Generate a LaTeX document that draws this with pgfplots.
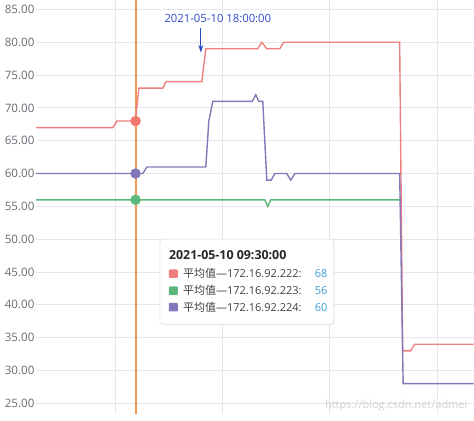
\documentclass[border=0pt]{standalone}
\usepackage{pgfplots}
\pgfplotsset{compat=1.18}
\usepackage{fontspec}
\setmainfont{Open Sans}
\newfontfamily\cjk{Noto Sans CJK SC}
\usetikzlibrary{arrows.meta,shadows}

\definecolor{sred}{RGB}{238,128,125}
\definecolor{sgreen}{RGB}{92,184,122}
\definecolor{spurple}{RGB}{132,120,186}
\definecolor{ticktxt}{RGB}{105,107,116}
\definecolor{gridc}{RGB}{230,230,236}
\definecolor{annblue}{RGB}{45,75,200}
\definecolor{valblue}{RGB}{60,160,215}

\begin{document}
\begin{tikzpicture}
\begin{axis}[
  scale only axis,
  width=438pt, height=414pt,
  xmin=36, xmax=474,
  ymin=23.37, ymax=86.37,
  ytick={25,30,...,85},
  xtick={115,222.5,330,437.5},
  xticklabels={},
  grid=major,
  major grid style={gridc, line width=0.8pt},
  axis line style={draw=none},
  major tick length=0pt,
  tick label style={font=\fontsize{11.6}{12}\selectfont, text=ticktxt},
  yticklabel style={xshift=2pt},
  /pgf/number format/.cd, fixed, fixed zerofill, precision=2, assume math mode=true,
]
% cursor line (hover position 09:30)
\draw[draw={rgb,255:red,242;green,155;blue,80}, line width=2pt]
  (axis cs:135.7,23.37) -- (axis cs:135.7,86.37);

% red: 172.16.92.222
\addplot[sred, line width=1.4pt] coordinates {
  (36,67) (113,67) (117,68) (135.5,68) (139,73) (163,73) (166,74) (202,74)
  (206,79) (258,79) (262,80) (267,79) (280,79) (284,80) (400,80) (403,33)
  (411,33) (415,34) (474,34)};

% green: 172.16.92.223
\addplot[sgreen, line width=1.4pt] coordinates {
  (36,56) (265,56) (268,55) (271,56) (400,56)};

% purple: 172.16.92.224
\addplot[spurple, line width=1.4pt] coordinates {
  (36,60) (143,60) (147,61) (206,61) (209,68) (213,71) (252.5,71) (256,72)
  (259,71) (263,71) (267,59) (271.5,59) (275,60) (287,60) (291,59) (295,60)
  (400,60) (403.5,28) (474,28)};

% hover dots
\addplot[only marks, mark=*, mark size=5pt, color={rgb,255:red,240;green,120;blue,110}] coordinates {(135.7,68)};
\addplot[only marks, mark=*, mark size=5pt, spurple] coordinates {(135.7,60)};
\addplot[only marks, mark=*, mark size=5pt, sgreen] coordinates {(135.7,56)};

% annotation
\node[text=annblue, font=\fontsize{11.3}{12}\selectfont] at (axis cs:218,83.63) {2021-05-10 18:00:00};
\draw[annblue, line width=1.3pt, -{Stealth[length=8pt,width=5pt]}] (axis cs:201,82.1) -- (axis cs:201,78.4);

% tooltip
\draw[draw=gray!30, fill=white, rounded corners=3pt, drop shadow={opacity=0.12, shadow xshift=1pt, shadow yshift=-1pt}]
  (axis cs:160,50.0) rectangle (axis cs:334,37.07);
\node[anchor=west, inner sep=0, font=\bfseries\fontsize{12.4}{13}\selectfont, text=black!85] at (axis cs:169,47.57) {2021-05-10 09:30:00};
\fill[sred, rounded corners=1pt] (axis cs:169,45.4) rectangle (axis cs:178,44.1);
\fill[sgreen, rounded corners=1pt] (axis cs:169,42.8) rectangle (axis cs:178,41.5);
\fill[spurple, rounded corners=1pt] (axis cs:169,40.3) rectangle (axis cs:178,39.0);
\node[anchor=west, inner sep=0, font=\fontsize{11}{12}\selectfont, text=black!75] at (axis cs:183,44.76) {{\cjk 平均值}—172.16.92.222:};
\node[anchor=west, inner sep=0, font=\fontsize{11}{12}\selectfont, text=black!75] at (axis cs:183,42.17) {{\cjk 平均值}—172.16.92.223:};
\node[anchor=west, inner sep=0, font=\fontsize{11}{12}\selectfont, text=black!75] at (axis cs:183,39.66) {{\cjk 平均值}—172.16.92.224:};
\node[anchor=east, inner sep=0, font=\fontsize{11}{12}\selectfont, text=valblue] at (axis cs:328,44.76) {68};
\node[anchor=east, inner sep=0, font=\fontsize{11}{12}\selectfont, text=valblue] at (axis cs:328,42.17) {56};
\node[anchor=east, inner sep=0, font=\fontsize{11}{12}\selectfont, text=valblue] at (axis cs:328,39.66) {60};

% watermark
\node[anchor=east, inner sep=0, font=\fontsize{11}{12}\selectfont, text=gray!35] at (axis cs:468,24.6) {https://blog.csdn.net/admei};
\end{axis}
\path ([xshift=-36pt]current axis.south west);
\end{tikzpicture}
\end{document}
